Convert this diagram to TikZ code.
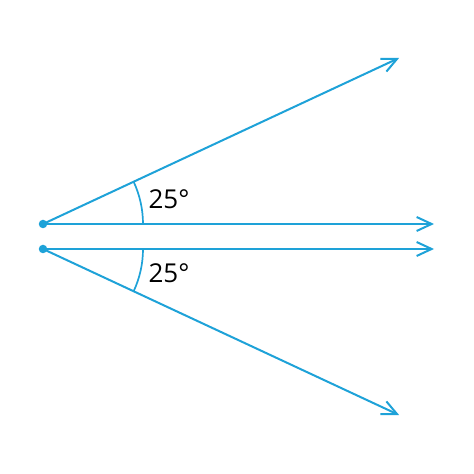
\documentclass[tikz,border=0pt]{standalone}
\usepackage{fontspec}
\setmainfont{Open Sans}
\usetikzlibrary{arrows.meta,calc}
\definecolor{rayblue}{RGB}{30,162,216}
\begin{document}
\begin{tikzpicture}[x=1pt,y=1pt,
  ray/.style={draw=rayblue,line width=2pt,-{Straight Barb[length=15pt,width=14pt,line width=2pt]}},
  arcline/.style={draw=rayblue,line width=1.7pt},
  pt/.style={circle,fill=rayblue,inner sep=0pt,minimum size=8.5pt},
  lbl/.style={font=\fontsize{26}{29}\selectfont,text=black,inner sep=0pt}]
\useasboundingbox (0,0) rectangle (474,474);
\node[pt] (A) at (43,250) {};
\node[pt] (B) at (43,225) {};
\coordinate (Au) at ($(A)+(25:393)$);
\coordinate (Ah) at (434,250);
\coordinate (Bh) at (434,225);
\coordinate (Bd) at ($(B)+(-25:393)$);
\draw[ray] (A.center) -- (Au);
\draw[ray] (A.center) -- (Ah);
\draw[ray] (B.center) -- (Bh);
\draw[ray] (B.center) -- (Bd);
\draw[arcline] ($(A)+(100,0)$) arc[start angle=0,end angle=25,radius=100];
\draw[arcline] ($(B)+(100,0)$) arc[start angle=0,end angle=-25,radius=100];
\node[lbl] (L1) at (169,274.5) {25°};
\node[lbl] (L2) at (169,201) {25°};
\end{tikzpicture}
\end{document}
